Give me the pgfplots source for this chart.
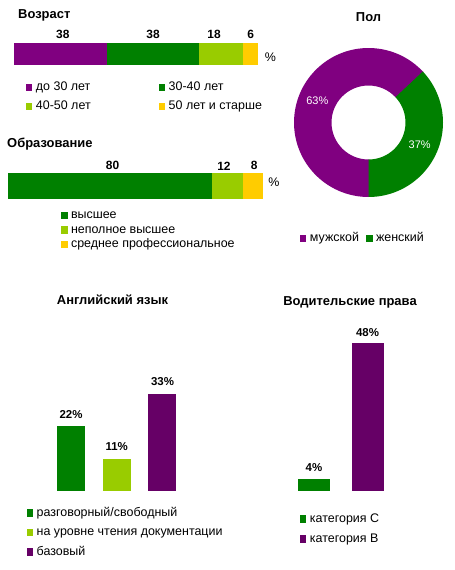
\documentclass[border=0pt]{standalone}
\usepackage{fontspec}
\setmainfont{Liberation Sans}
\usepackage{pgfplots}
\usepackage{pgfplotstable}
\pgfplotsset{compat=1.18}

\definecolor{cPurple}{HTML}{800080}
\definecolor{cDarkPurple}{HTML}{660066}
\definecolor{cGreen}{HTML}{008000}
\definecolor{cLime}{HTML}{99CC00}
\definecolor{cYellow}{HTML}{FFCC00}

\newcommand\legfont{\fontsize{12.5}{14}\selectfont}
\newcommand\titfont{\fontsize{13}{15}\selectfont\bfseries}
\newcommand\valfont{\fontsize{12}{14}\selectfont\bfseries}

% gender shares
\pgfplotstableread{
share
63
37
}\sextable

\pgfplotsset{
  /pgf/number format/assume math mode=true,
  panel/.style={scale only axis, hide axis, clip=false, anchor=south west},
  sqlegend/.style={
    legend image code/.code={\fill[##1] (0bp,-3.7bp) rectangle (6.5bp,3.7bp);},
    legend cell align=left,
    legend style={draw=none, fill=none, inner sep=0pt, outer sep=0pt,
      anchor=north west, font=\legfont,
      nodes={inner sep=0pt, text height=9bp, text depth=2.5bp},
      /tikz/every odd column/.style={column sep=3.5bp}}},
}

\pgfplotstablegetelem{0}{share}\of\sextable\edef\shareM{\pgfplotsretval}
\pgfplotstablegetelem{1}{share}\of\sextable\edef\shareF{\pgfplotsretval}
\pgfmathsetmacro\aSplit{-90+3.6*\shareF}
\pgfmathsetmacro\aMidF{-90+1.8*\shareF}
\pgfmathsetmacro\aMidM{\aSplit+1.8*\shareM}
\pgfmathsetmacro\aSplitLo{\aSplit-1}

\begin{document}
\begin{tikzpicture}
\useasboundingbox (0,0) rectangle (455bp,-570bp);

% ---- Возраст ----
\node[font=\titfont, anchor=base west, inner sep=0] at (18bp,-18.3bp) {Возраст};
\begin{axis}[panel, at={(14bp,-65bp)}, width=244bp, height=22bp,
    xmin=0, xmax=100, ymin=-0.5, ymax=0.5,
    xbar stacked, bar width=22bp, sqlegend, legend columns=2,
    legend style={at={(0.049,-0.77)}, row sep=7.5bp,
      /tikz/every even column/.style={column sep=68bp}}]
  \addplot[fill=cPurple, draw=none] coordinates {(38,0)};
  \addplot[fill=cGreen, draw=none] coordinates {(38,0)};
  \addplot[fill=cLime, draw=none] coordinates {(18,0)};
  \addplot[fill=cYellow, draw=none] coordinates {(6,0)};
  \legend{до 30 лет, 30-40 лет, 40-50 лет, 50 лет и старше}
\end{axis}
\begin{axis}[panel, at={(14bp,-65bp)}, width=244bp, height=22bp,
    xmin=0, xmax=100, ymin=-0.5, ymax=0.5]
  \addplot[draw=none, nodes near coords, point meta=explicit symbolic,
    every node near coord/.style={anchor=south, inner sep=0pt, yshift=4.4bp, font=\valfont}]
    coordinates {(20,0.5)[38] (57,0.5)[38] (82,0.5)[18] (97,0.5)[6]};
\end{axis}
\node[font=\legfont] at (270.5bp,-57bp) {\%};

% ---- Образование ----
\node[font=\titfont, anchor=base west, inner sep=0] at (7bp,-147.3bp) {Образование};
\begin{axis}[panel, at={(8bp,-199bp)}, width=255bp, height=26bp,
    xmin=0, xmax=100, ymin=-0.5, ymax=0.5,
    xbar stacked, bar width=26bp, sqlegend,
    legend style={at={(0.208,-0.42)}, row sep=3bp}]
  \addplot[fill=cGreen, draw=none] coordinates {(80,0)};
  \addplot[fill=cLime, draw=none] coordinates {(12,0)};
  \addplot[fill=cYellow, draw=none] coordinates {(8,0)};
  \legend{высшее, неполное высшее, среднее профессиональное}
\end{axis}
\begin{axis}[panel, at={(8bp,-199bp)}, width=255bp, height=26bp,
    xmin=0, xmax=100, ymin=-0.5, ymax=0.5]
  \addplot[draw=none, nodes near coords, point meta=explicit symbolic,
    every node near coord/.style={anchor=south, inner sep=0pt, yshift=2.7bp, font=\valfont}]
    coordinates {(41,0.5)[80] (84.7,0.5)[12] (96.5,0.5)[8]};
\end{axis}
\node[font=\legfont] at (274bp,-182bp) {\%};

% ---- Пол ----
\node[font=\titfont, anchor=base, inner sep=0] at (368.5bp,-21.7bp) {Пол};
\begin{axis}[panel, at={(294bp,-197bp)}, width=149bp, height=149bp,
    xmin=-1, xmax=1, ymin=-1, ymax=1, sqlegend, legend columns=2,
    legend style={at={(0.04,-0.238)},
      /tikz/every even column/.style={column sep=7bp}}]
  \addlegendimage{fill=cPurple, draw=none}
  \addlegendentry{мужской}
  \addlegendimage{fill=cGreen, draw=none}
  \addlegendentry{женский}
  \begin{scope}[shift={(axis cs:0,0)}]
    \fill[cPurple] (\aSplitLo:74.5bp) arc[start angle=\aSplitLo, end angle=271, radius=74.5bp]
      -- (271:37bp) arc[start angle=271, end angle=\aSplitLo, radius=37bp] -- cycle;
    \fill[cGreen] (-90:74.5bp) arc[start angle=-90, end angle=\aSplit, radius=74.5bp]
      -- (\aSplit:37bp) arc[start angle=\aSplit, end angle=-90, radius=37bp] -- cycle;
    \node[text=white, font=\fontsize{11}{13}\selectfont] at (\aMidM:55.75bp) {\shareM\%};
    \node[text=white, font=\fontsize{11}{13}\selectfont] at (\aMidF:55.75bp) {\shareF\%};
  \end{scope}
\end{axis}

% ---- Английский язык ----
\node[font=\titfont, anchor=base, inner sep=0] at (112.5bp,-304bp) {Английский язык};
\begin{axis}[panel, at={(48.1bp,-491bp)}, width=137.25bp, height=103.25bp,
    xmin=-0.5, xmax=2.5, ymin=0, ymax=35,
    ybar, bar width=28bp, bar shift=0pt, sqlegend,
    nodes near coords={\pgfmathprintnumber{\pgfplotspointmeta}\%},
    every node near coord/.append style={anchor=south, inner sep=0pt, yshift=7.5bp,
      font=\fontsize{11.5}{13}\selectfont\bfseries},
    legend style={at={(-0.156,-0.157)}, row sep=8bp}]
  \addplot[fill=cGreen, draw=none] coordinates {(0,22)};
  \addplot[fill=cLime, draw=none] coordinates {(1,11)};
  \addplot[fill=cDarkPurple, draw=none] coordinates {(2,33)};
  \legend{разговорный/свободный, на уровне чтения документации, базовый}
\end{axis}

% ---- Водительские права ----
\node[font=\titfont, anchor=base, inner sep=0] at (350bp,-305bp) {Водительские права};
\begin{axis}[panel, at={(287.25bp,-491bp)}, width=107bp, height=154bp,
    xmin=-0.5, xmax=1.5, ymin=0, ymax=50,
    ybar, bar width=32bp, bar shift=0pt, sqlegend,
    nodes near coords={\pgfmathprintnumber{\pgfplotspointmeta}\%},
    every node near coord/.append style={anchor=south, inner sep=0pt, yshift=6.5bp,
      font=\fontsize{11.5}{13}\selectfont\bfseries},
    legend style={at={(0.119,-0.1445)}, row sep=8.5bp}]
  \addplot[fill=cGreen, draw=none] coordinates {(0,4)};
  \addplot[fill=cDarkPurple, draw=none] coordinates {(1,48)};
  \legend{категория C, категория B}
\end{axis}
\end{tikzpicture}
\end{document}
